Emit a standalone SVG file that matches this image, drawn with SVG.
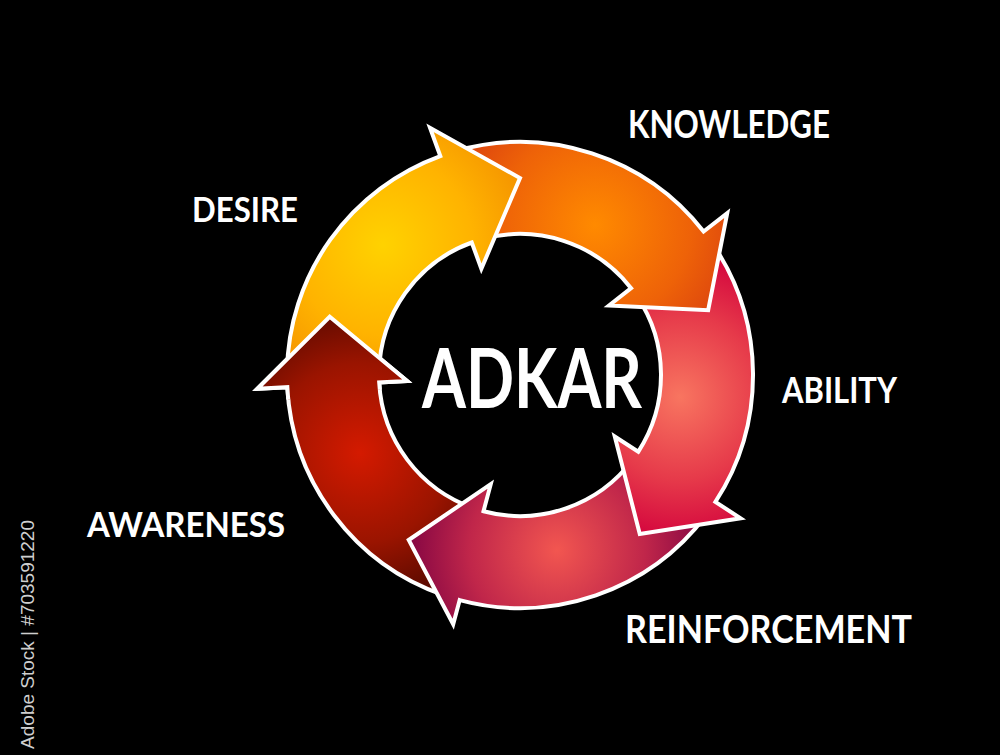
<svg xmlns="http://www.w3.org/2000/svg" width="1000" height="755" viewBox="0 0 1000 755">
<style>
.arrow{stroke:#ffffff;stroke-width:4;stroke-linejoin:miter;stroke-miterlimit:10}
.lbl{fill:#ffffff;font-family:Lato,"Liberation Sans",sans-serif;font-weight:700;text-transform:uppercase}
.wm{fill:#cfcfcf;font-family:"Liberation Sans",Arial,sans-serif;font-size:19px}
</style>
<defs>
<radialGradient id="gY" gradientUnits="userSpaceOnUse" cx="383" cy="245" r="150">
<stop offset="0" stop-color="#FFD200"/><stop offset="0.6" stop-color="#FFB300"/><stop offset="1" stop-color="#F59500"/>
</radialGradient>
<radialGradient id="gO" gradientUnits="userSpaceOnUse" cx="595" cy="225" r="160">
<stop offset="0" stop-color="#FF8A00"/><stop offset="0.6" stop-color="#EE6208"/><stop offset="1" stop-color="#D83E10"/>
</radialGradient>
<radialGradient id="gP" gradientUnits="userSpaceOnUse" cx="680" cy="397" r="150">
<stop offset="0" stop-color="#F87560"/><stop offset="0.55" stop-color="#E63A4A"/><stop offset="1" stop-color="#D2003C"/>
</radialGradient>
<radialGradient id="gM" gradientUnits="userSpaceOnUse" cx="557" cy="550" r="160">
<stop offset="0" stop-color="#F25650"/><stop offset="0.55" stop-color="#C0264A"/><stop offset="1" stop-color="#7A0042"/>
</radialGradient>
<radialGradient id="gR" gradientUnits="userSpaceOnUse" cx="360" cy="453" r="150">
<stop offset="0" stop-color="#D41A00"/><stop offset="0.6" stop-color="#9A1400"/><stop offset="1" stop-color="#5C0A00"/>
</radialGradient>
<clipPath id="redHeadClip"><polygon points="520,375 201.8,408.4 230,239.8"/></clipPath>
</defs>
<rect x="0" y="0" width="1000" height="755" fill="#000000"/>
<g id="cycle">
<g id="arrow-awareness"><path id="pAwareness" class="arrow" fill="url(#gR)" d="M 444.14 595.31 A 233 233 0 0 1 287.32 387.19 L 257.36 388.77 L 329.70 316.82 L 407.15 380.91 L 379.19 382.38 A 141 141 0 0 0 474.09 508.32 Z"/></g>
<g id="arrow-reinforcement"><path class="arrow" fill="url(#gM)" d="M 706.08 515.22 A 233 233 0 0 1 459.70 600.06 L 453.22 624.21 L 408.72 539.98 L 490.75 484.15 L 483.51 511.20 A 141 141 0 0 0 632.61 459.86 Z"/></g>
<g id="arrow-ability"><path class="arrow" fill="url(#gP)" d="M 713.17 244.71 A 233 233 0 0 1 715.41 501.90 L 740.57 518.24 L 639.76 533.93 L 614.77 436.54 L 638.25 451.79 A 141 141 0 0 0 636.89 296.15 Z"/></g>
<g id="arrow-knowledge"><path class="arrow" fill="url(#gO)" d="M 455.78 151.03 A 233 233 0 0 1 703.61 231.55 L 727.25 213.08 L 708.16 310.21 L 609.05 305.43 L 631.11 288.19 A 141 141 0 0 0 481.13 239.46 Z"/></g>
<g id="arrow-desire"><path class="arrow" fill="url(#gY)" d="M 287.04 370.93 A 233 233 0 0 1 440.31 156.05 L 430.05 127.86 L 520 178 L 481.35 268.81 L 471.78 242.50 A 141 141 0 0 0 379.02 372.54 Z"/></g>
<g id="arrow-awareness-head" clip-path="url(#redHeadClip)"><use href="#pAwareness"/></g>
</g>
<g id="center"><text class="lbl" x="532" y="408" font-size="82" text-anchor="middle" textLength="220" lengthAdjust="spacingAndGlyphs">ADKAR</text></g>
<g id="label-knowledge"><text class="lbl" x="628" y="138" font-size="38" textLength="202" lengthAdjust="spacingAndGlyphs">Knowledge</text></g>
<g id="label-desire"><text class="lbl" x="192" y="222" font-size="35" textLength="106" lengthAdjust="spacingAndGlyphs">Desire</text></g>
<g id="label-ability"><text class="lbl" x="782" y="403" font-size="36" textLength="115" lengthAdjust="spacingAndGlyphs">Ability</text></g>
<g id="label-awareness"><text class="lbl" x="87" y="537" font-size="35" textLength="198" lengthAdjust="spacingAndGlyphs">Awareness</text></g>
<g id="label-reinforcement"><text class="lbl" x="625" y="643" font-size="38" textLength="287" lengthAdjust="spacingAndGlyphs">Reinforcement</text></g>
<text class="wm" transform="translate(34,520) rotate(-90)" text-anchor="end">Adobe Stock | #703591220</text>
</svg>
